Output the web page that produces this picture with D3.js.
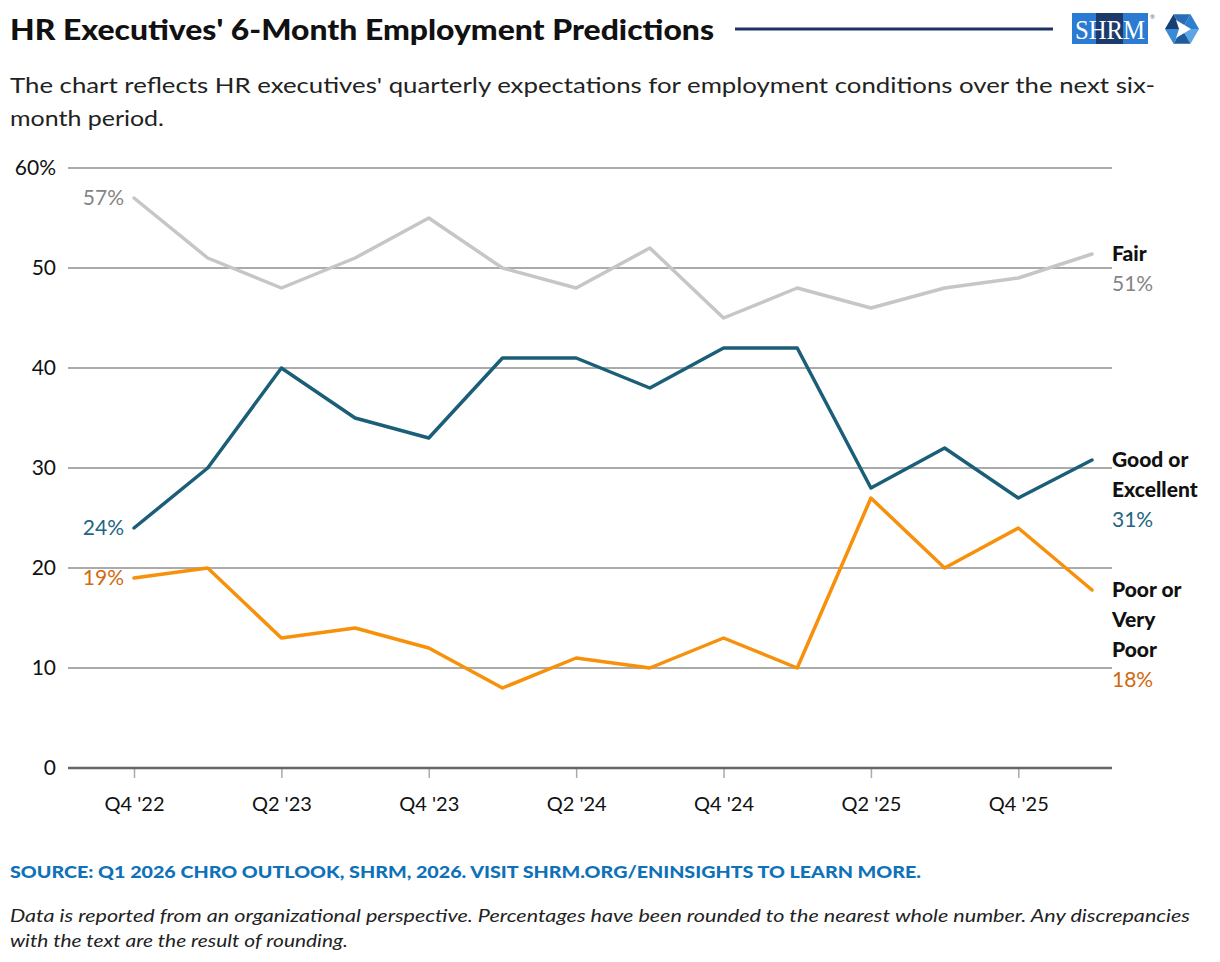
<!DOCTYPE html>
<html>
<head>
<meta charset="utf-8">
<script src="https://cdn.jsdelivr.net/npm/d3@7"></script>
<style>
  body { margin: 0; background: #fff; font-family: Lato, "Open Sans", sans-serif; }
  svg text { font-family: Lato, "Open Sans", sans-serif; }
</style>
</head>
<body>
<div class="chart"></div>
<script>
// quarters from Q4 '22 to Q1 '26
var quarters = ["Q4 '22","Q1 '23","Q2 '23","Q3 '23","Q4 '23","Q1 '24","Q2 '24","Q3 '24","Q4 '24","Q1 '25","Q2 '25","Q3 '25","Q4 '25","Q1 '26"];
var tickQuarters = ["Q4 '22","Q2 '23","Q4 '23","Q2 '24","Q4 '24","Q2 '25","Q4 '25"];
var fairValues = [57, 51, 48, 51, 55, 50, 48, 52, 45, 48, 46, 48, 49, 51.4];
var goodValues = [24, 30, 40, 35, 33, 41, 41, 38, 42, 42, 28, 32, 27, 30.8];
var poorValues = [19, 20, 13, 14, 12, 8, 11, 10, 13, 10, 27, 20, 24, 17.8];
var yTicks = [0, 10, 20, 30, 40, 50, 60];

var series = [
  {name: ["Fair"], values: fairValues, line: "#c6c6c6", label: "#858585", first: "57%", last: "51%"},
  {name: ["Good or", "Excellent"], values: goodValues, line: "#1b5e78", label: "#1f6582", first: "24%", last: "31%"},
  {name: ["Poor or", "Very", "Poor"], values: poorValues, line: "#f7900a", label: "#cf6a12", first: "19%", last: "18%"}
];

var svgWidth = 1220, svgHeight = 962;
var svg = d3.select(".chart").append("svg")
  .attr("width", svgWidth)
  .attr("height", svgHeight);

// header
svg.append("text")
  .attr("x", 10).attr("y", 40)
  .attr("font-size", 29).attr("font-weight", 900)
  .attr("fill", "#111")
  .attr("textLength", 704).attr("lengthAdjust", "spacingAndGlyphs")
  .text("HR Executives' 6-Month Employment Predictions");

svg.append("line")
  .attr("x1", 735).attr("x2", 1053)
  .attr("y1", 29).attr("y2", 29)
  .attr("stroke", "#1c3461").attr("stroke-width", 3);

// logo
var logo = svg.append("g").attr("transform", "translate(1072,13)");
logo.append("rect").attr("x", 0).attr("y", 0).attr("width", 24).attr("height", 31).attr("fill", "#2a7bd1");
logo.append("rect").attr("x", 24).attr("y", 0).attr("width", 27).attr("height", 31).attr("fill", "#1d3b6a");
logo.append("rect").attr("x", 51).attr("y", 0).attr("width", 25).attr("height", 31).attr("fill", "#2a7bd1");
logo.append("text").attr("x", 38).attr("y", 26)
  .attr("text-anchor", "middle").attr("fill", "#fff")
  .attr("font-size", 27)
  .attr("textLength", 70).attr("lengthAdjust", "spacingAndGlyphs")
  .style("font-family", "'Liberation Serif', serif")
  .text("SHRM");
logo.append("text").attr("x", 78).attr("y", 6).attr("font-size", 6).attr("fill", "#666").text("®");

// hexagon mark: six coloured wedges with a white pinwheel centre
var hex = svg.append("g").attr("transform", "translate(1182,29)");
var hexColors = ["#2f7fcf", "#5aa6e6", "#1f5c9c", "#3b8ad6", "#173f73", "#2a6cb5"];
d3.range(6).forEach(function(i) {
  var a0 = (i * 60 - 60) * Math.PI / 180, a1 = (i * 60) * Math.PI / 180;
  hex.append("path")
    .attr("d", "M0,0 L" + (17 * Math.cos(a0)) + "," + (17 * Math.sin(a0)) +
      " L" + (17 * Math.cos(a1)) + "," + (17 * Math.sin(a1)) + " Z")
    .attr("fill", hexColors[i]);
});
hex.append("path").attr("d", "M-6,-9 L9,0 L-6,9 L-3,0 Z").attr("fill", "#fff");

// subtitle
svg.append("text").attr("x", 10).attr("y", 93)
  .attr("font-size", 22).attr("fill", "#222")
  .attr("textLength", 1145).attr("lengthAdjust", "spacingAndGlyphs")
  .text("The chart reflects HR executives' quarterly expectations for employment conditions over the next six-");
svg.append("text").attr("x", 10).attr("y", 126)
  .attr("font-size", 22).attr("fill", "#222")
  .attr("textLength", 154).attr("lengthAdjust", "spacingAndGlyphs")
  .text("month period.");

// scales
var x = d3.scalePoint().domain(quarters).range([134, 1092]);
var y = d3.scaleLinear().domain([0, 60]).range([768, 168]);

// gridlines
svg.append("g")
  .selectAll("line")
  .data(yTicks.filter(d => d > 0))
  .enter().append("line")
  .attr("x1", 68).attr("x2", 1112)
  .attr("y1", d => y(d)).attr("y2", d => y(d))
  .attr("stroke", "#ababab").attr("stroke-width", 2);

// y labels
svg.append("g")
  .selectAll("text")
  .data(yTicks)
  .enter().append("text")
  .attr("x", 56).attr("y", d => y(d) + 7)
  .attr("text-anchor", "end")
  .attr("font-size", 21).attr("fill", "#111")
  .text(d => d === 60 ? "60%" : d);

// x axis
var bottomAxis = d3.axisBottom(x).tickValues(tickQuarters).tickSize(10).tickPadding(19);
var xg = svg.append("g")
  .attr("transform", "translate(0,768)")
  .call(bottomAxis);
xg.select(".domain").remove();
xg.selectAll(".tick line").attr("stroke", "#aaa").attr("stroke-width", 1.5);
xg.selectAll(".tick text").attr("font-size", 20).attr("fill", "#111")
  .style("font-family", "Lato, 'Open Sans', sans-serif");
svg.append("line")
  .attr("x1", 68).attr("x2", 1112)
  .attr("y1", 768).attr("y2", 768)
  .attr("stroke", "#666").attr("stroke-width", 2.5);

// lines
var line = d3.line()
  .x((d, i) => x(quarters[i]))
  .y(d => y(d));

series.forEach(function(s) {
  svg.append("path")
    .datum(s.values)
    .attr("d", line)
    .attr("fill", "none")
    .attr("stroke", s.line)
    .attr("stroke-width", 3.5)
    .attr("stroke-linejoin", "round")
    .attr("stroke-linecap", "round");

  // first value label
  svg.append("text")
    .attr("x", x(quarters[0]) - 10)
    .attr("y", y(s.values[0]) + 7)
    .attr("text-anchor", "end")
    .attr("font-size", 21).attr("fill", s.label)
    .text(s.first);

  // series name at the right end
  var lastY = y(s.values[s.values.length - 1]);
  s.name.forEach(function(n, i) {
    svg.append("text")
      .attr("x", 1112).attr("y", lastY + 7 + i * 30)
      .attr("font-size", 21).attr("font-weight", 900).attr("fill", "#111")
      .text(n);
  });
  svg.append("text")
    .attr("x", 1112).attr("y", lastY + 7 + s.name.length * 30)
    .attr("font-size", 21).attr("fill", s.label)
    .text(s.last);
});

// footer
svg.append("text").attr("x", 10).attr("y", 878)
  .attr("font-size", 17).attr("font-weight", 900).attr("fill", "#0f72b8")
  .attr("textLength", 911).attr("lengthAdjust", "spacingAndGlyphs")
  .text("SOURCE: Q1 2026 CHRO OUTLOOK, SHRM, 2026. VISIT SHRM.ORG/ENINSIGHTS TO LEARN MORE.");
svg.append("text").attr("x", 10).attr("y", 922)
  .attr("font-size", 17).attr("font-style", "italic").attr("fill", "#222")
  .attr("textLength", 1180).attr("lengthAdjust", "spacingAndGlyphs")
  .text("Data is reported from an organizational perspective. Percentages have been rounded to the nearest whole number. Any discrepancies");
svg.append("text").attr("x", 10).attr("y", 947)
  .attr("font-size", 17).attr("font-style", "italic").attr("fill", "#222")
  .attr("textLength", 338).attr("lengthAdjust", "spacingAndGlyphs")
  .text("with the text are the result of rounding.");
</script>
</body>
</html>
